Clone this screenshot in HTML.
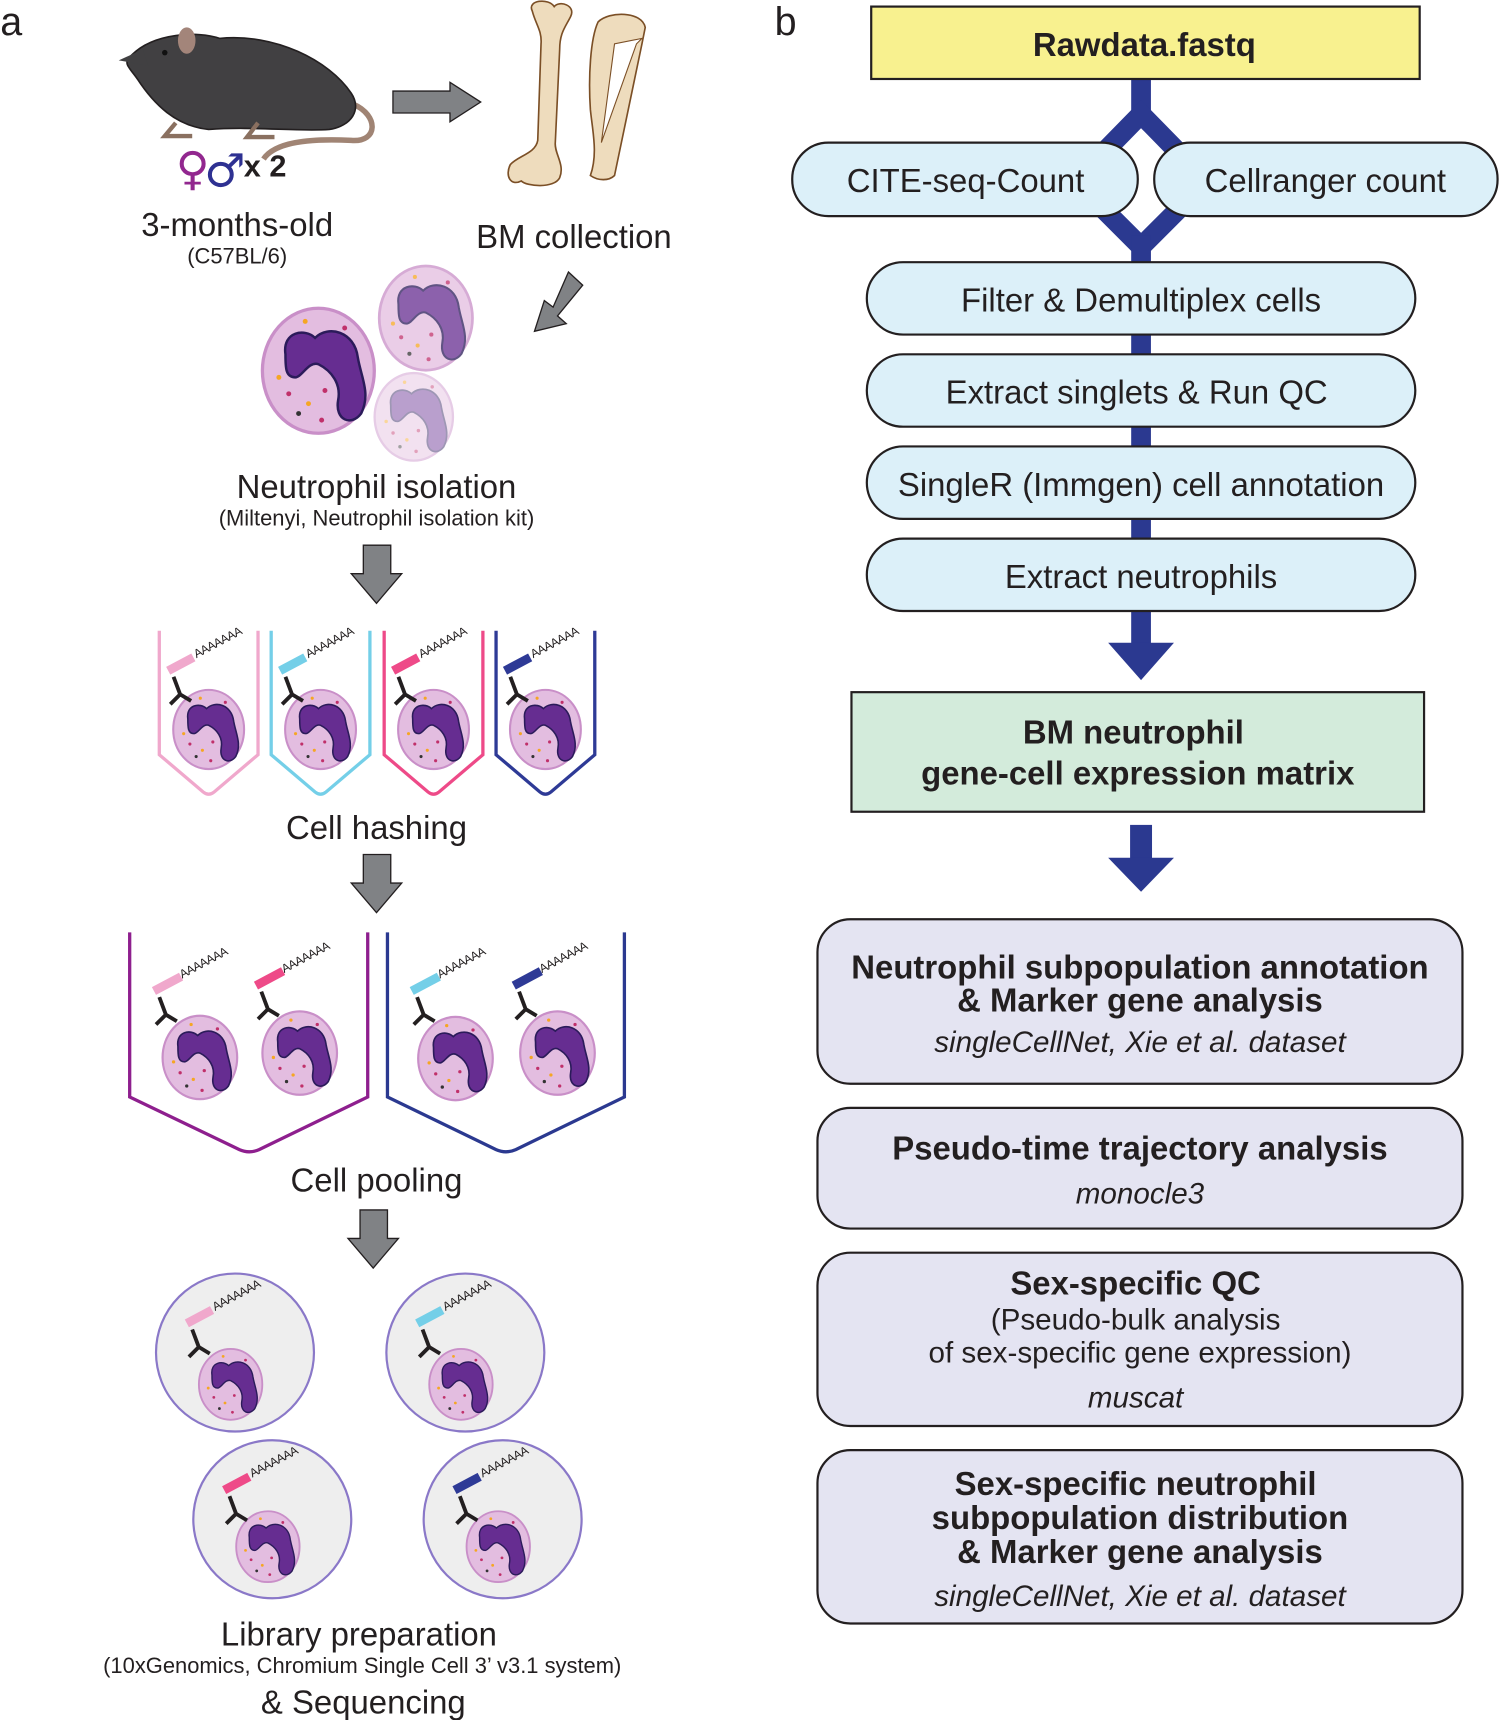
<!DOCTYPE html>
<html><head><meta charset="utf-8"><style>
html,body{margin:0;padding:0;background:#fff}
svg{display:block}
text{font-family:"Liberation Sans",Arial,sans-serif;fill:#231f20}
</style></head><body>
<svg width="1500" height="1720" viewBox="0 0 1367 1568" xmlns="http://www.w3.org/2000/svg">
<defs>
<g id="cell">
<ellipse cx="0" cy="0" rx="34" ry="38" fill="#e3bde0" stroke="#c98fc8" stroke-width="2"/>
<path d="M-20,-10 C-22,-24 -8,-26 -2,-20 C6,-28 22,-24 24,-8 C26,4 32,14 26,26 C20,34 10,30 12,18 C14,8 8,0 0,-4 C-6,-6 -10,4 -14,4 C-20,4 -20,-2 -20,-10Z" fill="#662d91" stroke="#2b1b5a" stroke-width="1.5"/>
<circle cx="-18" cy="14" r="1.5" fill="#c0306a"/><circle cx="-6" cy="20" r="1.5" fill="#f5a623"/>
<circle cx="4" cy="12" r="1.5" fill="#c0306a"/><circle cx="-12" cy="26" r="1.5" fill="#333"/>
<circle cx="2" cy="30" r="1.5" fill="#c0306a"/><circle cx="-24" cy="4" r="1.5" fill="#f5a623"/>
<circle cx="16" cy="-26" r="1.5" fill="#c0306a"/><circle cx="-8" cy="-30" r="1.5" fill="#f5a623"/>
</g>
<g id="ab">
<path d="M3,2 L9,18 L0,27 M9,18 L19,24" stroke="#231f20" stroke-width="3.5" fill="none"/>
<text x="28" y="-2" transform="rotate(-28)" font-size="11" style="letter-spacing:-0.5px">AAAAAAA</text>
</g>
</defs>

<text x="0" y="32" font-size="36">a</text>
<text x="706" y="32" font-size="36">b</text>

<!-- mouse -->
<path d="M322,95 C345,105 345,130 320,128 C280,126 250,130 240,145" stroke="#a08474" stroke-width="5" fill="none"/>
<path d="M120,50 C140,30 180,28 200,35 C250,30 300,55 320,85 C330,100 320,115 300,118 C270,120 230,115 190,118 C160,115 140,95 125,72 C118,62 112,58 118,52Z" fill="#414042" stroke="#231f20" stroke-width="1.5"/>
<path d="M108,55 L130,45 L135,60Z" fill="#414042"/>
<ellipse cx="170" cy="37" rx="8" ry="12" fill="#a3857a"/>
<circle cx="150" cy="48" r="2.5" fill="#111"/>
<path d="M160,112 L150,124 L175,124 M235,112 L225,125 L250,125" stroke="#8a7060" stroke-width="4" fill="none"/>

<polygon points="358,83 410,83 410,75 438,93 410,111 410,103 358,103" fill="#808285" stroke="#231f20" stroke-width="1.2"/>

<!-- bones -->
<path d="M485,10 C480,0 500,-2 505,6 C510,0 525,5 520,15 C515,25 510,30 510,45 L506,130 C505,140 515,150 510,162 C505,172 480,170 475,165 C465,170 460,160 465,150 C472,142 488,140 490,128 L493,40 C494,28 488,22 485,10Z" fill="#eedcbd" stroke="#7b4f26" stroke-width="1.5"/>
<path d="M545,20 C555,10 585,10 588,25 L585,40 L560,160 C555,165 545,165 538,160 C545,140 540,120 538,100 C536,70 538,35 545,20Z" fill="#eedcbd" stroke="#7b4f26" stroke-width="1.5"/>
<path d="M585,35 L560,40 L548,130 L580,40Z" fill="#fff" stroke="#7b4f26" stroke-width="1"/>

<text x="160" y="168" font-size="42" style="fill:#92278f;font-family:'DejaVu Sans',sans-serif">♀</text>
<text x="186" y="170" font-size="42" style="fill:#2e3192;font-family:'DejaVu Sans',sans-serif">♂</text>
<text x="222" y="161" font-size="28" font-weight="bold">x 2</text>
<text x="216" y="215" font-size="30" text-anchor="middle">3-months-old</text>
<text x="216" y="240" font-size="20" text-anchor="middle">(C57BL/6)</text>
<text x="523" y="226" font-size="30" text-anchor="middle">BM collection</text>

<polygon points="518,248 531,260 508,288 516,295 487,302 496,274 504,280" fill="#808285" stroke="#231f20" stroke-width="1.2"/>

<g transform="translate(290,338) scale(1.5)"><use href="#cell"/></g>
<g transform="translate(388,290) scale(1.25)" opacity="0.75"><use href="#cell"/></g>
<g transform="translate(377,380) scale(1.05)" opacity="0.45"><use href="#cell"/></g>

<text x="343" y="454" font-size="30" text-anchor="middle">Neutrophil isolation</text>
<text x="343" y="479" font-size="20" text-anchor="middle">(Miltenyi, Neutrophil isolation kit)</text>

<polygon points="331,497 356,497 356,523 366,523 343,550 320,523 331,523" fill="#808285" stroke="#231f20" stroke-width="1.2"/>
<polygon points="331,779 356,779 356,805 366,805 343,832 320,805 331,805" fill="#808285" stroke="#231f20" stroke-width="1.2"/>
<polygon points="328,1103 353,1103 353,1129 363,1129 340,1156 317,1129 328,1129" fill="#808285" stroke="#231f20" stroke-width="1.2"/>

<g fill="none" stroke-width="3">
<path d="M145,575 L145,688 L185,722 Q190,726 195,722 L235,688 L235,575" stroke="#f0a8cc"/>
<path d="M247,575 L247,688 L287,722 Q292,726 297,722 L337,688 L337,575" stroke="#74cfe8"/>
<path d="M350,575 L350,688 L390,722 Q395,726 400,722 L440,688 L440,575" stroke="#ee4a88"/>
<path d="M452,575 L452,688 L492,722 Q497,726 502,722 L542,688 L542,575" stroke="#2e3a96"/>
</g>
<g transform="translate(190,665) scale(0.95)"><use href="#cell"/></g>
<g transform="translate(292,665) scale(0.95)"><use href="#cell"/></g>
<g transform="translate(395,665) scale(0.95)"><use href="#cell"/></g>
<g transform="translate(497,665) scale(0.95)"><use href="#cell"/></g>
<g transform="translate(155,615)"><rect x="0" y="-8" width="26" height="8" transform="rotate(-28)" fill="#f0a8cc"/><use href="#ab"/></g>
<g transform="translate(257,615)"><rect x="0" y="-8" width="26" height="8" transform="rotate(-28)" fill="#74cfe8"/><use href="#ab"/></g>
<g transform="translate(360,615)"><rect x="0" y="-8" width="26" height="8" transform="rotate(-28)" fill="#ee4a88"/><use href="#ab"/></g>
<g transform="translate(462,615)"><rect x="0" y="-8" width="26" height="8" transform="rotate(-28)" fill="#2e3a96"/><use href="#ab"/></g>
<text x="343" y="765" font-size="30" text-anchor="middle">Cell hashing</text>

<g fill="none" stroke-width="3">
<path d="M118,850 L118,1000 L218,1048 Q227,1052 236,1048 L335,1000 L335,850" stroke="#8e1f8e"/>
<path d="M353,850 L353,1000 L452,1048 Q461,1052 470,1048 L569,1000 L569,850" stroke="#2b3990"/>
</g>
<g transform="translate(182,964)"><use href="#cell"/></g>
<g transform="translate(273,960)"><use href="#cell"/></g>
<g transform="translate(415,965)"><use href="#cell"/></g>
<g transform="translate(508,960)"><use href="#cell"/></g>
<g transform="translate(142,907)"><rect x="0" y="-8" width="28" height="8" transform="rotate(-28)" fill="#f0a8cc"/><use href="#ab"/></g>
<g transform="translate(235,902)"><rect x="0" y="-8" width="28" height="8" transform="rotate(-28)" fill="#ee4a88"/><use href="#ab"/></g>
<g transform="translate(377,907)"><rect x="0" y="-8" width="28" height="8" transform="rotate(-28)" fill="#74cfe8"/><use href="#ab"/></g>
<g transform="translate(470,902)"><rect x="0" y="-8" width="28" height="8" transform="rotate(-28)" fill="#2e3a96"/><use href="#ab"/></g>
<text x="343" y="1086" font-size="30" text-anchor="middle">Cell pooling</text>

<g fill="#eeeeee" stroke="#8a78c8" stroke-width="2">
<circle cx="214" cy="1233" r="72"/><circle cx="424" cy="1233" r="72"/>
<circle cx="248" cy="1385" r="72"/><circle cx="458" cy="1385" r="72"/>
</g>
<g transform="translate(210,1262) scale(0.85)"><use href="#cell"/></g>
<g transform="translate(420,1262) scale(0.85)"><use href="#cell"/></g>
<g transform="translate(244,1410) scale(0.85)"><use href="#cell"/></g>
<g transform="translate(454,1410) scale(0.85)"><use href="#cell"/></g>
<g transform="translate(172,1210)"><rect x="0" y="-8" width="26" height="8" transform="rotate(-28)" fill="#f0a8cc"/><use href="#ab"/></g>
<g transform="translate(382,1210)"><rect x="0" y="-8" width="26" height="8" transform="rotate(-28)" fill="#74cfe8"/><use href="#ab"/></g>
<g transform="translate(206,1362)"><rect x="0" y="-8" width="26" height="8" transform="rotate(-28)" fill="#ee4a88"/><use href="#ab"/></g>
<g transform="translate(416,1362)"><rect x="0" y="-8" width="26" height="8" transform="rotate(-28)" fill="#2e3a96"/><use href="#ab"/></g>

<text x="327" y="1500" font-size="30" text-anchor="middle">Library preparation</text>
<text x="330" y="1525" font-size="20" text-anchor="middle">(10xGenomics, Chromium Single Cell 3’ v3.1 system)</text>
<text x="331" y="1562" font-size="30" text-anchor="middle">&amp; Sequencing</text>

<!-- RIGHT PANEL -->
<g stroke="#2b3990" fill="none" stroke-width="18">
<line x1="1040" y1="72" x2="1040" y2="108"/>
<polyline points="995,150 1040,104 1085,150"/>
<polyline points="995,180 1040,225 1085,180"/>
</g>
<rect x="1031" y="215" width="18" height="375" fill="#2b3990"/>
<polygon points="1010,586 1070,586 1040,620" fill="#2b3990"/>
<rect x="1030" y="752" width="20" height="32" fill="#2b3990"/>
<polygon points="1010,782 1070,782 1040,813" fill="#2b3990"/>

<rect x="794" y="6" width="500" height="66" fill="#f8f18f" stroke="#231f20" stroke-width="2"/>
<text x="1043" y="51" font-size="30" font-weight="bold" text-anchor="middle">Rawdata.fastq</text>

<g fill="#dcf0f9" stroke="#231f20" stroke-width="2">
<rect x="722" y="130" width="315" height="67" rx="33"/>
<rect x="1052" y="130" width="313" height="67" rx="33"/>
<rect x="790" y="239" width="500" height="66" rx="33"/>
<rect x="790" y="323" width="500" height="66" rx="33"/>
<rect x="790" y="407" width="500" height="66" rx="33"/>
<rect x="790" y="491" width="500" height="66" rx="33"/>
</g>
<g font-size="30" text-anchor="middle">
<text x="880" y="175">CITE-seq-Count</text>
<text x="1208" y="175">Cellranger count</text>
<text x="1040" y="284">Filter &amp; Demultiplex cells</text>
<text x="1036" y="368">Extract singlets &amp; Run QC</text>
<text x="1040" y="452">SingleR (Immgen) cell annotation</text>
<text x="1040" y="536">Extract neutrophils</text>
</g>

<rect x="776" y="631" width="522" height="109" fill="#d3ebdb" stroke="#231f20" stroke-width="2"/>
<text x="1033" y="678" font-size="30" font-weight="bold" text-anchor="middle">BM neutrophil</text>
<text x="1037" y="715" font-size="30" font-weight="bold" text-anchor="middle">gene-cell expression matrix</text>

<g fill="#e4e4f2" stroke="#231f20" stroke-width="2">
<rect x="745" y="838" width="588" height="150" rx="30"/>
<rect x="745" y="1010" width="588" height="110" rx="30"/>
<rect x="745" y="1142" width="588" height="158" rx="30"/>
<rect x="745" y="1322" width="588" height="158" rx="30"/>
</g>
<g text-anchor="middle">
<text x="1039" y="892" font-size="30" font-weight="bold">Neutrophil subpopulation annotation</text>
<text x="1039" y="922" font-size="30" font-weight="bold">&amp; Marker gene analysis</text>
<text x="1039" y="959" font-size="27" font-style="italic">singleCellNet, Xie et al. dataset</text>
<text x="1039" y="1057" font-size="30" font-weight="bold">Pseudo-time trajectory analysis</text>
<text x="1039" y="1097" font-size="27" font-style="italic">monocle3</text>
<text x="1035" y="1180" font-size="30" font-weight="bold">Sex-specific QC</text>
<text x="1035" y="1212" font-size="27">(Pseudo-bulk analysis</text>
<text x="1039" y="1242" font-size="27">of sex-specific gene expression)</text>
<text x="1035" y="1283" font-size="27" font-style="italic">muscat</text>
<text x="1035" y="1363" font-size="30" font-weight="bold">Sex-specific neutrophil</text>
<text x="1039" y="1394" font-size="30" font-weight="bold">subpopulation distribution</text>
<text x="1039" y="1425" font-size="30" font-weight="bold">&amp; Marker gene analysis</text>
<text x="1039" y="1464" font-size="27" font-style="italic">singleCellNet, Xie et al. dataset</text>
</g>
</svg>
</body></html>
